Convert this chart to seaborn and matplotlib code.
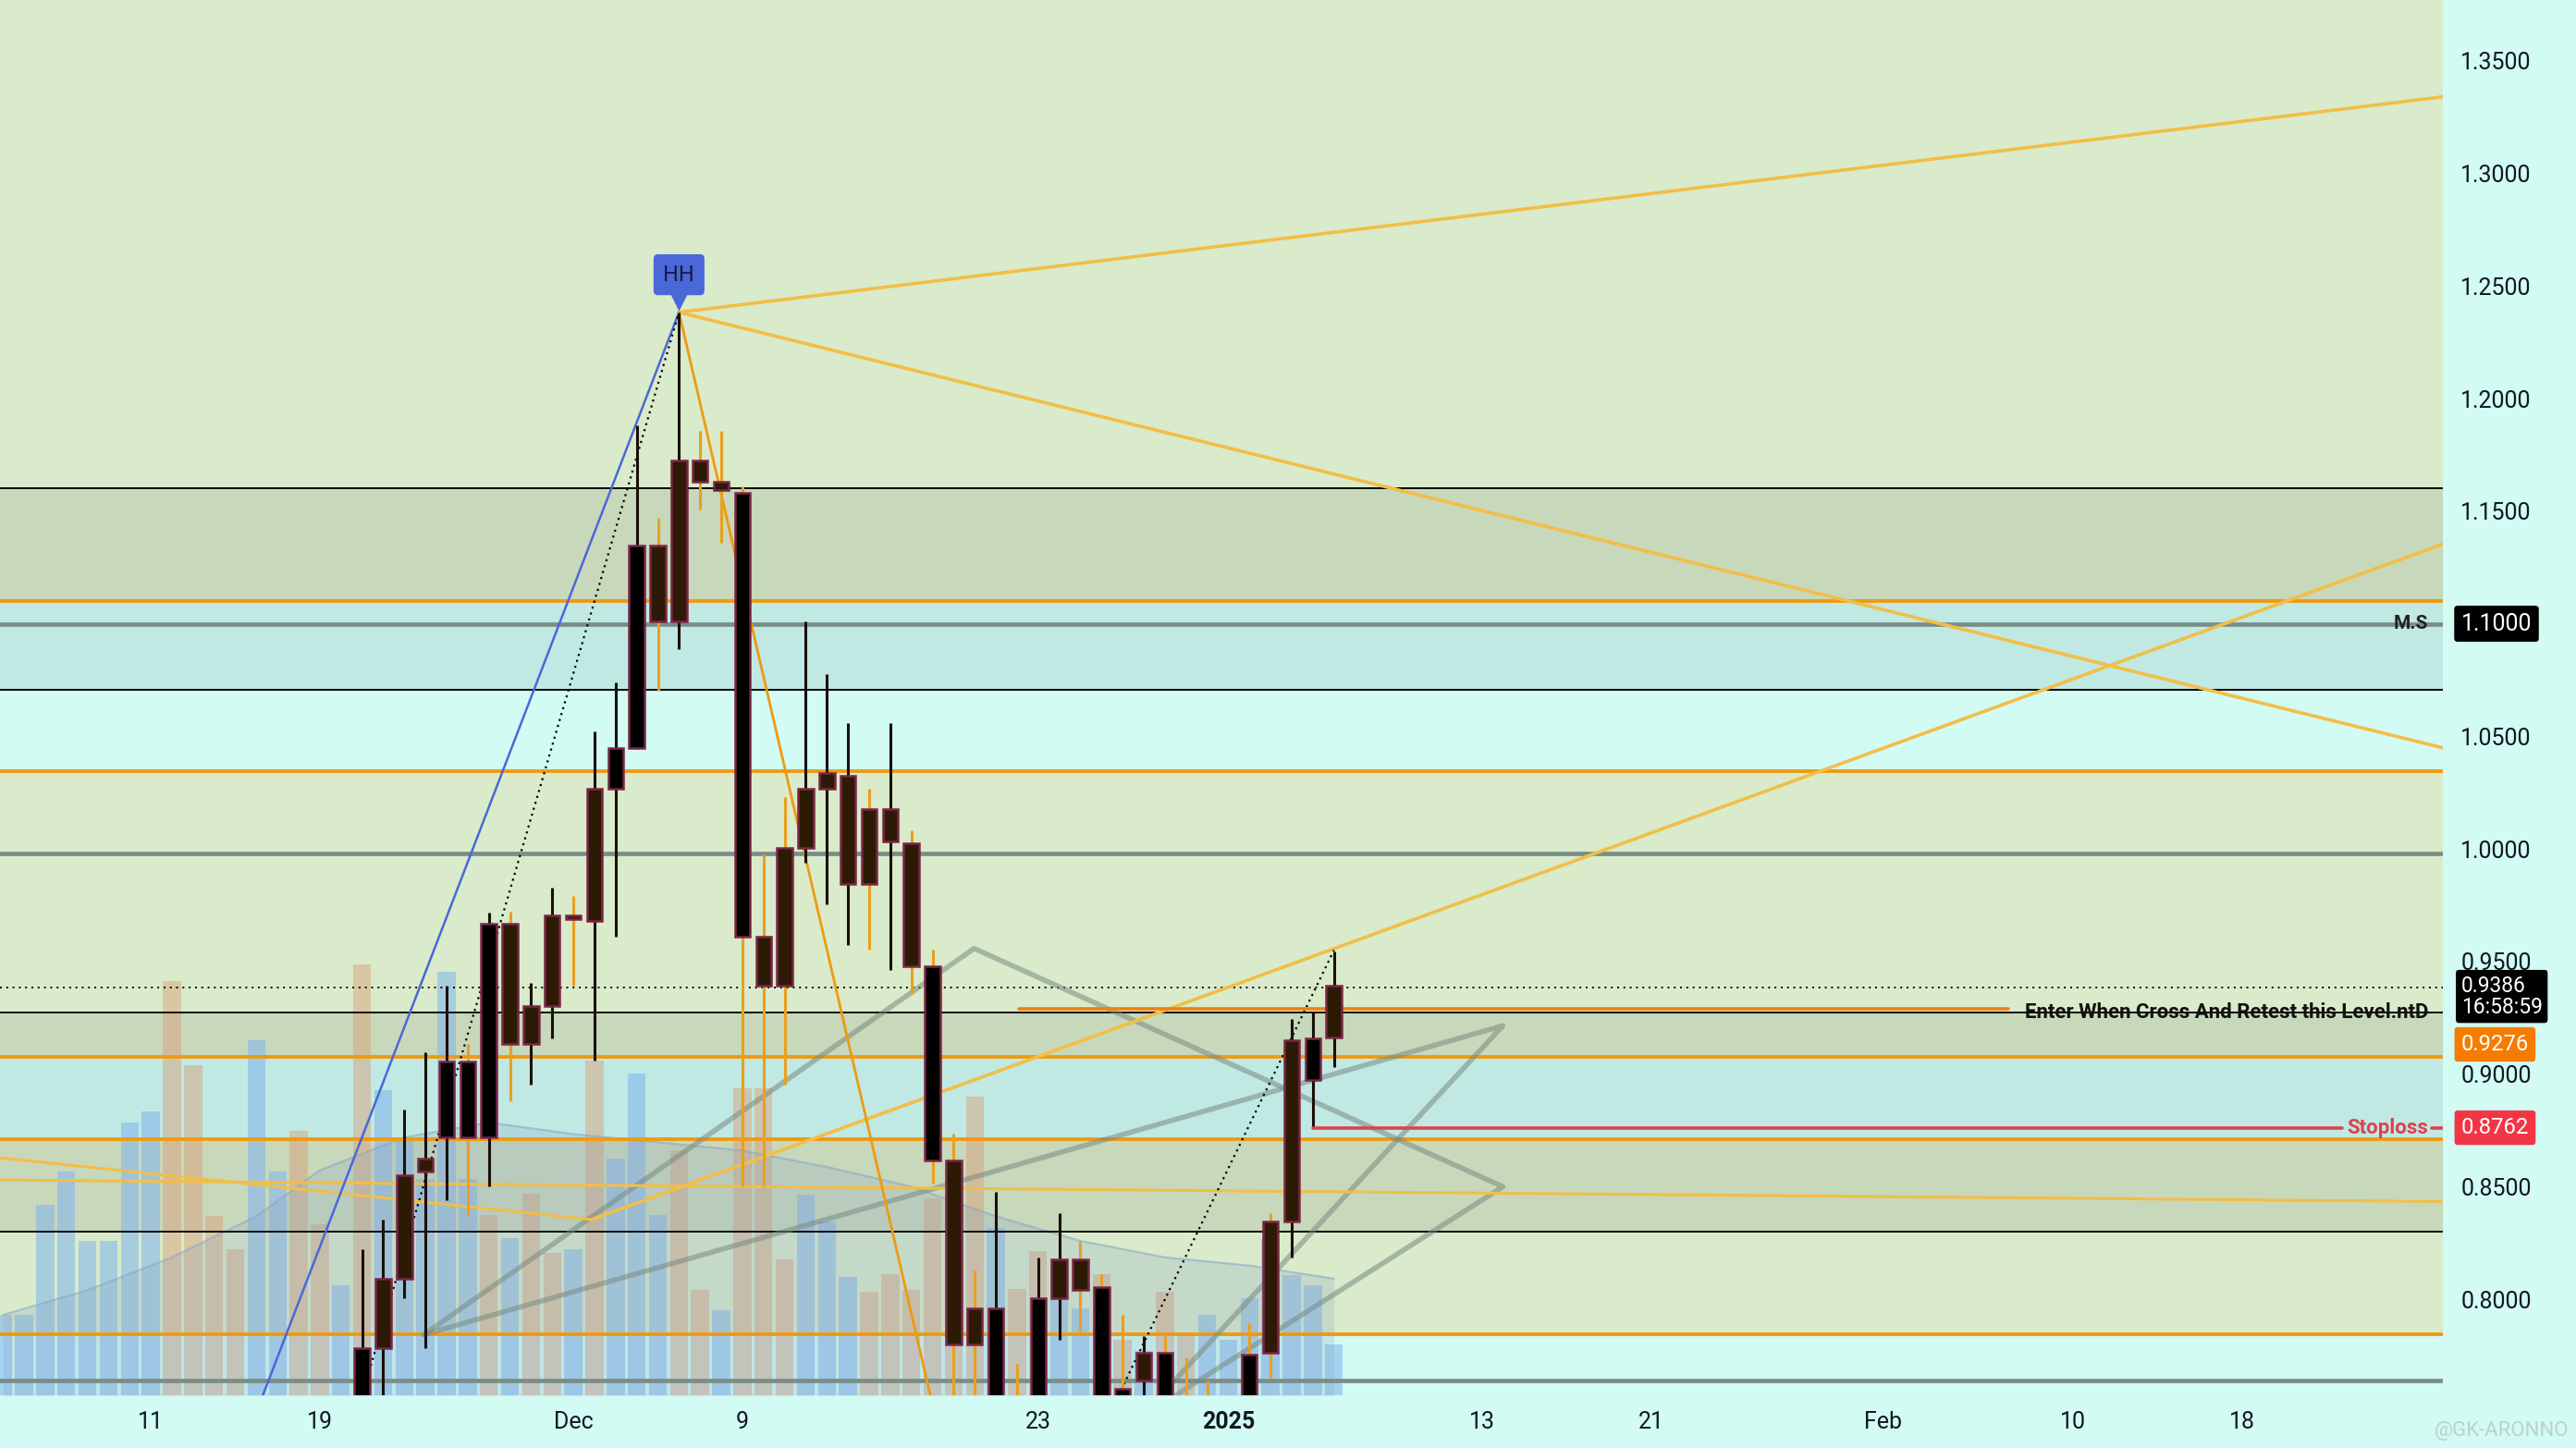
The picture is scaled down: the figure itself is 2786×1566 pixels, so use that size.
import numpy as np
import pandas as pd
import seaborn as sns
import matplotlib
matplotlib.use("Agg")
import matplotlib.pyplot as plt
from matplotlib.transforms import blended_transform_factory

sns.set_theme(style="white")
plt.rcParams['font.family'] = ['Roboto', 'DejaVu Sans']

# ---------------- data ----------------
# day index t = days since 2024-12-01
cand_t = list(range(-10, 37))
cand_open = [0.7785, 0.7785, 0.8091, 0.8566, 0.9055, 0.9055, 0.9668, 0.9135, 0.9135, 0.9303, 0.9690, 0.9682, 1.0449,
             1.1347, 1.1011, 1.1011, 1.1631, 1.1631, 1.1580, 0.9391, 0.9391, 1.0004, 1.0266, 0.9843, 0.9843, 1.0033,
             0.9478, 0.9478, 0.7799, 0.7799, 0.7960, 0.7450, 0.8004, 0.8004, 0.8040, 0.8055, 0.7602, 0.7639, 0.7763,
             0.7450, 0.7450, 0.7450, 0.7755, 0.7763, 0.8347, 0.9157, 0.9164]
cand_close = [0.7400, 0.8091, 0.8551, 0.8624, 0.8719, 0.8719, 0.8719, 0.9668, 0.9303, 0.9704, 0.9704, 1.0266, 1.0266,
              1.0449, 1.1347, 1.1726, 1.1726, 1.1595, 0.9609, 0.9609, 1.0004, 1.0266, 1.0339, 1.0325, 1.0179, 1.0179,
              1.0026, 0.8617, 0.8617, 0.7960, 0.7400, 0.7500, 0.7400, 0.8179, 0.8179, 0.7400, 0.7400, 0.7763, 0.7400,
              0.7500, 0.7500, 0.7520, 0.7400, 0.8347, 0.9150, 0.8974, 0.9391]
cand_high = [0.8223, 0.8354, 0.8843, 0.9099, 0.9391, 0.9135, 0.9719, 0.9720, 0.9405, 0.9828, 0.9792, 1.0522, 1.0741,
             1.1880, 1.1471, 1.2383, 1.1858, 1.1858, 1.1610, 0.9974, 1.0230, 1.1011, 1.0777, 1.0558, 1.0266, 1.0558,
             1.0084, 0.9551, 0.8734, 0.8128, 0.8478, 0.7712, 0.8186, 0.8383, 0.8259, 0.8113, 0.7931, 0.7836, 0.7836,
             0.7741, 0.7639, 0.7550, 0.7894, 0.8383, 0.9245, 0.9274, 0.9544]
cand_low = [0.7400, 0.7400, 0.8004, 0.7785, 0.8442, 0.8369, 0.8500, 0.8880, 0.8953, 0.9157, 0.9391, 0.9062, 0.9609,
            1.0442, 1.0704, 1.0887, 1.1507, 1.1361, 0.8500, 0.8500, 0.8953, 0.9938, 0.9755, 0.9573, 0.9551, 0.9464,
            0.9354, 0.8515, 0.7400, 0.7400, 0.7400, 0.7400, 0.7400, 0.7821, 0.7858, 0.7400, 0.7400, 0.7400, 0.7400,
            0.7400, 0.7400, 0.7400, 0.7400, 0.7653, 0.8186, 0.8770, 0.9033]
cand_fill = list("kbbbkkkbbbbbkkbbbbkbbbbbbbbkbbkkkbbkkbkkkkkbbkb")
cand_wick = list("kkkkkokokkoklkokoooookkkokooookokkoookooooookkk")

vol_t = list(range(-27, 37))
vol_val = [4.9, 4.9, 11.6, 13.6, 9.4, 9.4, 16.6, 17.3, 25.2, 20.1, 10.9, 8.9, 21.6, 13.6, 16.1, 10.4, 6.7, 26.2,
           18.6, 15.7, 13.2, 25.8, 13.2, 11.0, 9.6, 12.3, 8.7, 8.9, 20.4, 14.4, 19.6, 11.0, 14.9, 6.4, 5.2, 18.7,
           18.7, 8.3, 12.2, 10.6, 7.2, 6.3, 7.4, 6.4, 12.0, 13.7, 18.2, 10.2, 6.5, 8.8, 5.9, 5.3, 7.4, 3.4, 2.7,
           6.3, 3.7, 4.9, 3.4, 5.9, 9.5, 7.3, 6.7, 3.1]
vol_color = list("bbbbbbbbttttbbttbtbbbbbtbttbtbbbttbtttbbbttttttbttbbttbttbbbbbbb"[:64])
ma_t = [-27, -23, -19, -15, -12, -8, -4, 0, 4, 8, 12, 16, 20, 24, 28, 32, 36]
ma_val = [4.9, 6.4, 8.4, 10.9, 13.7, 15.7, 16.6, 15.9, 15.4, 14.9, 13.9, 12.7, 10.9, 9.4, 8.4, 7.9, 7.1]

band_edges = [1.377, 1.160, 1.110, 1.0705, 1.0347, 0.9274, 0.9077, 0.871, 0.830, 0.7843, 0.7573]
band_kind = ["g", "d", "c", "l", "g", "d", "c", "d", "g", "l"]
hl_price = [1.160, 1.110, 1.100, 1.0705, 1.0347, 0.998, 0.9274, 0.9077, 0.871, 0.830, 0.7843, 0.7639]
hl_kind = ["k", "o", "s", "k", "o", "s", "k", "o", "o", "k", "o", "s"]

yticks = [0.80, 0.85, 0.90, 0.95, 1.00, 1.05, 1.10, 1.15, 1.20, 1.25, 1.30, 1.35]
xtick_t = [-20, -12, 0, 8, 22, 31, 43, 51, 62, 71, 79]
xtick_lab = ["11", "19", "Dec", "9", "23", "2025", "13", "21", "Feb", "10", "18"]

hh_t, hh_p = 5, 1.2383
last_price = 0.9386
entry_price = 0.9276
stop_price = 0.8762
ms_price = 1.1000

# ---------------- figure ----------------
fig = plt.figure(figsize=(13.93, 7.83), dpi=200)
fig.patch.set_facecolor("#d1fbf3")
ax = fig.add_axes([0, 0.0363, 0.9483, 0.9637])
XMIN, XMAX, YMIN, YMAX = -27.14, 88.49, 0.7573, 1.377
ax.set_xlim(XMIN, XMAX)
ax.set_ylim(YMIN, YMAX)
for s in ax.spines.values():
    s.set_visible(False)

bcol = {"g": "#d9ebca", "d": "#c8d8bb", "c": "#c0e9e3", "l": "#d1fbf3"}
for i, k in enumerate(band_kind):
    ax.axhspan(band_edges[i + 1], band_edges[i], color=bcol[k], lw=0, zorder=0)

lstyle = {"k": dict(color="black", lw=0.7), "o": dict(color="#ee9a12", lw=1.4), "s": dict(color="#7a8e88", lw=1.7)}
for p, k in zip(hl_price, hl_kind):
    ax.axhline(p, zorder=3, **lstyle[k])
ax.axhline(last_price, color="black", lw=0.7, ls=(0, (1, 2.5)), zorder=3)

# volume
bt = blended_transform_factory(ax.transData, ax.transAxes)
vc = {"b": ("#7fb3f0", 0.55), "t": ("#d9a27c", 0.5)}
for t, v, c in zip(vol_t, vol_val, vol_color):
    ax.bar(t, v / 84.9, width=0.85, bottom=0, color=vc[c][0], alpha=vc[c][1], lw=0, transform=bt, zorder=1)
ma_df = pd.DataFrame({"t": ma_t, "v": [v / 84.9 for v in ma_val]})
ax.fill_between(ma_df["t"], 0, ma_df["v"], color="#8aa6c4", alpha=0.25, lw=0, transform=bt, zorder=1)
sns.lineplot(data=ma_df, x="t", y="v", ax=ax, color="#8aa6c4", lw=0.8, alpha=0.6, transform=bt, zorder=1)

# drawings
ax.plot([-7.08, 18.97, 44.0, 28.5], [0.7843, 0.9558, 0.85, 0.7573], color="#7a8a80", alpha=0.55, lw=2.0, zorder=4)
ax.plot([-7.08, 44.0, 27.8], [0.7843, 0.9215, 0.7573], color="#7a8a80", alpha=0.55, lw=2.0, zorder=4)
ax.plot([hh_t, XMAX], [hh_p, 1.334], color="#f2be48", lw=1.3, zorder=4)
ax.plot([hh_t, XMAX], [hh_p, 1.0449], color="#f2be48", lw=1.3, zorder=4)
ax.plot([0.86, XMAX], [0.8354, 1.1354], color="#f2be48", lw=1.3, zorder=4)
ax.plot([XMIN, 0.86], [0.8628, 0.8354], color="#f2be48", lw=1.1, zorder=4)
ax.plot([XMIN, XMAX], [0.853, 0.8434], color="#f2be48", lw=1.1, zorder=4)
ax.plot([-14.7, hh_t], [0.7573, hh_p], color="#4a68d8", lw=0.9, zorder=4)
ax.plot([-10, hh_t], [0.7573, hh_p], color="black", lw=0.8, ls=(0, (1, 2)), zorder=4)
ax.plot([25.8, 36], [0.7573, 0.955], color="black", lw=0.8, ls=(0, (1, 2)), zorder=4)
ax.plot([hh_t, 16.9], [hh_p, 0.7573], color="#ee9a12", lw=1.0, zorder=4)
ax.plot([21.07, 67.9], [0.929, 0.929], color="#f08010", lw=1.3, zorder=4)
ax.plot([35, 83.7], [stop_price, stop_price], color="#e04050", lw=1.3, zorder=4)
ax.plot([87.95, 88.49], [stop_price, stop_price], color="#e04050", lw=1.3, zorder=4)

# candles
wc = {"k": "#1a1008", "o": "#e8a020", "l": "#1a1008"}
fc = {"k": "black", "b": "#2d1a05"}
for t, o, h, l, c, f, w in zip(cand_t, cand_open, cand_high, cand_low, cand_close, cand_fill, cand_wick):
    ax.vlines(t, l, h, color=wc[w], lw=1.1, zorder=5)
    lo, hi = min(o, c), max(o, c)
    ax.bar(t, max(hi - lo, 0.0012), bottom=lo, width=0.72, color=fc[f], edgecolor="#7a2545", lw=0.9, zorder=6)

# HH label
ax.plot([hh_t], [1.2445], marker="v", ms=7, color="#4a68d8", zorder=7)
ax.text(hh_t, 1.255, "HH", ha="center", va="center", color="#1a1a40", fontsize=8.5, zorder=8,
        bbox=dict(boxstyle="round,pad=0.45,rounding_size=0.2", fc="#4a68d8", ec="none"))

# texts on chart
ax.text(87.8, ms_price, "M.S", ha="right", va="center", fontsize=7.5, fontweight="bold", color="#222", zorder=8)
ax.text(87.8, stop_price, "Stoploss", ha="right", va="center", fontsize=8, fontweight="bold", color="#e04050", zorder=8)
ax.text(87.8, 0.9274, "Enter When Cross And Retest this Level.ntD", ha="right", va="center", fontsize=8,
        fontweight="bold", color="#111", zorder=8)

# axes
ax.yaxis.tick_right()
ax.set_yticks(yticks)
ax.set_yticklabels([f"{v:.4f}" for v in yticks])
ax.tick_params(axis="y", length=0, pad=7, labelsize=9, labelcolor="#131722")
ax.set_xticks(xtick_t)
ax.set_xticklabels(xtick_lab)
ax.tick_params(axis="x", length=0, pad=6, labelsize=9, labelcolor="#131722")
for lab in ax.get_xticklabels():
    if lab.get_text() == "2025":
        lab.set_fontweight("bold")
ax.set_xlabel("")
ax.set_ylabel("")

rt = blended_transform_factory(ax.transAxes, ax.transData)
def tag(p, txt, fc_, tc="white", fs=9):
    ax.text(1.0075, p, txt, transform=rt, ha="left", va="center", fontsize=fs, color=tc, zorder=9, clip_on=False,
            bbox=dict(boxstyle="round,pad=0.3,rounding_size=0.15", fc=fc_, ec="none"))
tag(ms_price, "1.1000", "black")
ax.text(1.0075, 0.9345, "0.9386\n16:58:59", transform=rt, ha="left", va="center", fontsize=8.2,
        color="white", linespacing=1.0, zorder=9, clip_on=False,
        bbox=dict(boxstyle="round,pad=0.25,rounding_size=0.15", fc="black", ec="none"))
tag(0.9132, "0.9276", "#f57c00", fs=8.6)
tag(stop_price, "0.8762", "#f23645", fs=8.6)

fig.text(0.997, 0.012, "@GK-ARONNO", ha="right", va="center", fontsize=8, color="#c0d0cc")

fig.savefig("out.png", dpi=200, facecolor=fig.get_facecolor())
